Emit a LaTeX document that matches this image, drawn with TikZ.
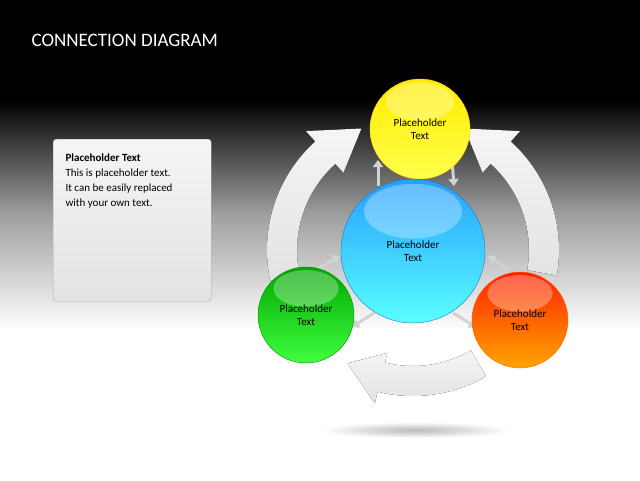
\documentclass[tikz,border=0pt]{standalone}
\usepackage{fontspec}
\setmainfont{Carlito}
\usetikzlibrary{arrows.meta,shadings}
\begin{document}
\begin{tikzpicture}[x=1pt,y=-1pt,
  sph/.style={circle,minimum size=#1,inner sep=0pt},
  lbl/.style={align=center,font=\fontsize{11}{13}\selectfont},
  bigarrow/.style={top color=gray!8,bottom color=gray!22,draw=none},
  smallarrow/.style={draw=gray!35,line width=3pt,-{Triangle[length=7pt,width=10pt]}}]
\useasboundingbox (0,0) rectangle (640,480);
\fill[black] (0,0) rectangle (640,101);
\shade[top color=black,bottom color=white,middle color=gray!75] (0,100) rectangle (640,330);
\fill[white] (0,329) rectangle (640,480);
\node[anchor=west,text=white,font=\fontsize{19}{22}\selectfont] (title) at (28,40) {CONNECTION DIAGRAM};
% text box
\node[draw=gray!70,rounded corners=3pt,top color=gray!8,bottom color=gray!22,minimum width=158,minimum height=162,anchor=north west] (box) at (53,139) {};
\node[anchor=north west,align=left,font=\fontsize{11}{15}\selectfont] (boxtext) at (62,150) {\textbf{Placeholder Text}\\This is placeholder text.\\It can be easily replaced\\with your own text.};
% shadow
\shade[inner color=gray!55,outer color=white] (415,430) ellipse (95 and 8);
% big arrows
\begin{scope}[shift={(413,250)}]
\fill[bigarrow] (-192:146) arc[start angle=-192,end angle=-132,radius=146] -- (-132:160) -- (-113:132) -- (-132:104) -- (-132:116) arc[start angle=-132,end angle=-192,radius=116] -- cycle;
\fill[bigarrow] (10:146) arc[start angle=10,end angle=-48,radius=146] -- (-48:160) -- (-67:132) -- (-48:104) -- (-48:116) arc[start angle=-48,end angle=10,radius=116] -- cycle;
\fill[bigarrow] (-300:146) arc[start angle=-300,end angle=-256,radius=146] -- (-256:158) -- (-240:131) -- (-256:106) -- (-256:116) arc[start angle=-256,end angle=-300,radius=116] -- cycle;
\end{scope}
% small arrows
\coordinate (s1a) at (378,186); \coordinate (s1b) at (378,160);
\coordinate (s2a) at (452,160); \coordinate (s2b) at (454,186);
\coordinate (s3a) at (316,270); \coordinate (s3b) at (340,256);
\coordinate (s4a) at (374,313); \coordinate (s4b) at (352,327);
\coordinate (s5a) at (510,270); \coordinate (s5b) at (488,256);
\coordinate (s6a) at (453,313); \coordinate (s6b) at (476,327);
\foreach \a/\b in {s1a/s1b,s2a/s2b,s3a/s3b,s4a/s4b,s5a/s5b,s6a/s6b} \draw[smallarrow] (\a) -- (\b);
% spheres
\node[sph=100,top color=yellow!85!orange,bottom color=yellow!70!white,draw=yellow!70!orange] (yellow) at (420,129) {};
\node[sph=144,top color=blue!45!cyan!85,bottom color=cyan!65!white,draw=cyan!60!blue] (blue) at (413,251) {};
\node[sph=96,top color=green!65!black,bottom color=green!75!white,draw=green!55!black] (green) at (306,315) {};
\node[sph=96,top color=red!75!orange,bottom color=orange!70!yellow,draw=orange!80!red] (orange) at (520,320) {};
% highlights
\foreach \n/\r in {yellow/50,blue/72,green/48,orange/48}{
  \fill[white,opacity=0.3] ([yshift={-0.45*\r}]\n.north) ellipse ({0.68*\r} and {0.38*\r});
}
\node[lbl] (yl) at (yellow) {Placeholder\\Text};
\node[lbl] (bl) at (blue) {Placeholder\\Text};
\node[lbl] (gl) at (green) {Placeholder\\Text};
\node[lbl] (ol) at (orange) {Placeholder\\Text};
\end{tikzpicture}
\end{document}
